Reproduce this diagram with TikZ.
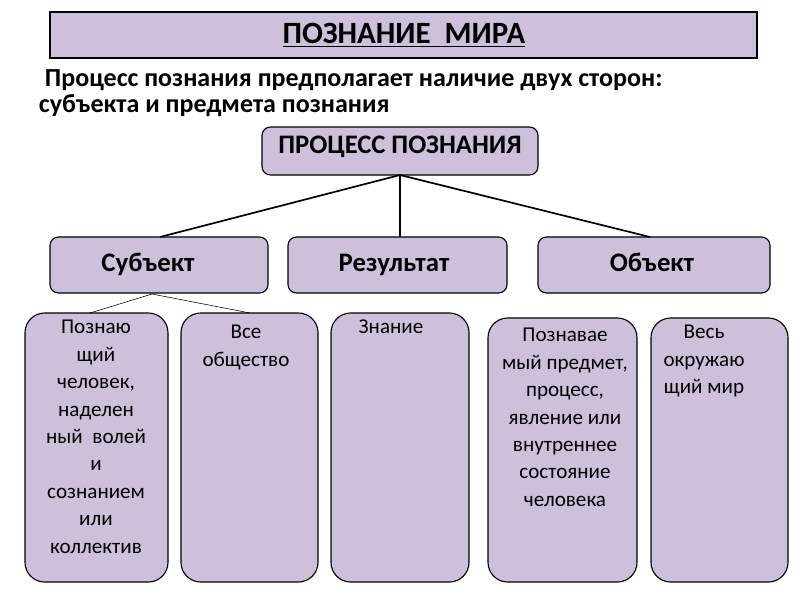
\documentclass[tikz,border=0pt]{standalone}
\usepackage{fontspec}
\setmainfont{Carlito}
\usetikzlibrary{positioning}
\definecolor{lilac}{RGB}{204,192,218}
\tikzset{
  box/.style={draw=black, thick, fill=lilac, rounded corners=6pt},
  leaf/.style={draw=black, thick, fill=lilac, rounded corners=14pt},
  txt/.style={font=\bfseries, align=center, text=black},
}
\begin{document}
\begin{tikzpicture}[x=0.025cm, y=-0.025cm]
    \useasboundingbox (0,0) rectangle (800,600);
    % title
    \draw[thick, fill=lilac] (50,12) rectangle (757,58);
    \node[txt, font=\bfseries\fontsize{22}{26}\selectfont] (title) at (404,35) {\underline{ПОЗНАНИЕ\ \ МИРА}};
    \node[txt, anchor=west, font=\bfseries\fontsize{18.5}{22}\selectfont] (line1) at (40,80) {Процесс познания предполагает наличие двух сторон:};
    \node[txt, anchor=west, font=\bfseries\fontsize{18.5}{22}\selectfont] (line2) at (34,106) {субъекта и предмета познания};

    % process box
    \draw[box] (262,127) rectangle (538,175);
    \node[txt, font=\bfseries\fontsize{19}{22}\selectfont] (proc) at (400,147) {ПРОЦЕСС ПОЗНАНИЯ};
    \coordinate (top) at (400,175);

    % second level
    \draw[box] (50,237) rectangle (268,293);
    \draw[box] (288,237) rectangle (507,293);
    \draw[box] (538,237) rectangle (770,293);
    \node[txt, font=\bfseries\fontsize{19}{22}\selectfont, anchor=base] (subj) at (148,271) {Субъект};
    \node[txt, font=\bfseries\fontsize{19}{22}\selectfont, anchor=base] (res) at (394,271) {Результат};
    \node[txt, font=\bfseries\fontsize{19}{22}\selectfont, anchor=base] (obj) at (652,271) {Объект};
    \coordinate (subjtop) at (160,237);
    \coordinate (restop) at (400,237);
    \coordinate (objtop) at (650,237);
    \draw[very thick] (top) -- (subjtop);
    \draw[very thick] (top) -- (restop);
    \draw[very thick] (top) -- (objtop);

    % leaves
    \draw[leaf] (25,313) rectangle (168,582);
    \draw[leaf] (181,313) rectangle (318,582);
    \draw[leaf] (331,313) rectangle (469,582);
    \draw[leaf] (488,318) rectangle (637,582);
    \draw[leaf] (651,318) rectangle (788,582);
    \coordinate (subjbot) at (152,294);
    \coordinate (leafa) at (90,313);
    \coordinate (leafb) at (250,313);
    \draw[thin] (subjbot) -- (leafa);
    \draw[thin] (subjbot) -- (leafb);

    \tikzset{leaftxt/.style={font=\fontsize{15}{19.5}\selectfont, align=center, anchor=north, inner sep=0pt}}
    \node[leaftxt] (who) at (96,320) {Познаю\\щий\\человек,\\наделен\\ный\ \ волей\\и\\сознанием\\или\\коллектив};
    \node[leaftxt] (all) at (246,325) {Все\\общество};
    \node[leaftxt] (know) at (391,320) {Знание};
    \node[leaftxt] (subject) at (565,328) {Познавае\\мый предмет,\\процесс,\\явление или\\внутреннее\\состояние\\человека};
    \node[leaftxt] (world) at (704,325) {Весь\\окружаю\\щий мир};
\end{tikzpicture}
\end{document}
